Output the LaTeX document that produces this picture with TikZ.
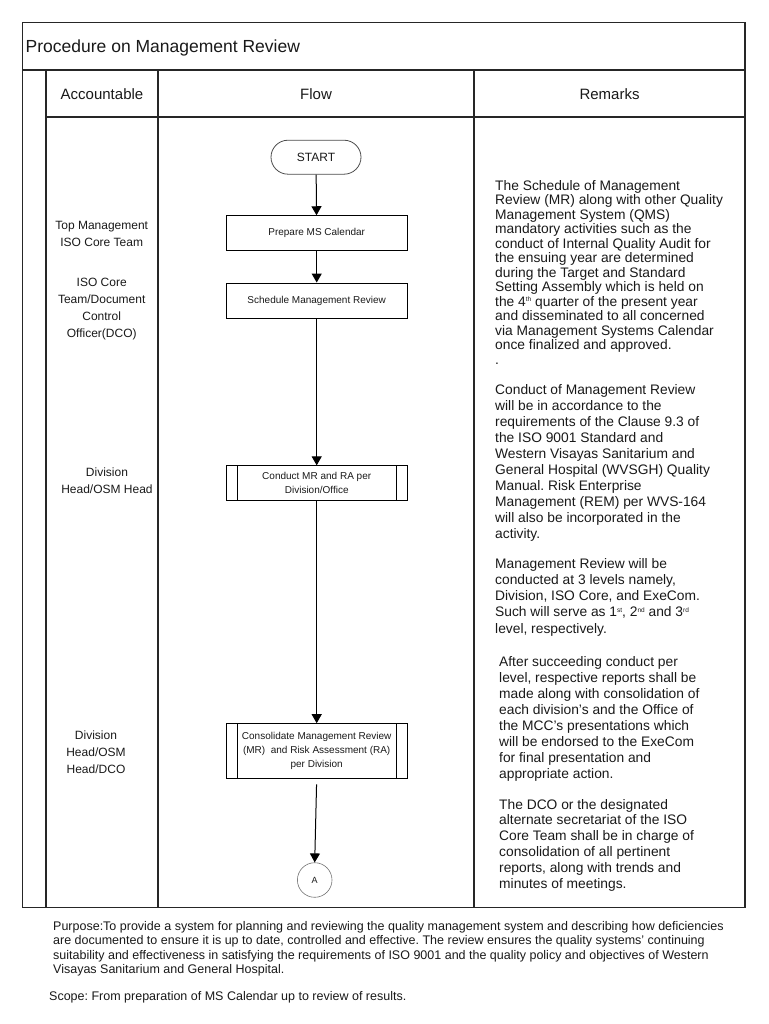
\documentclass[tikz,border=0pt]{standalone}
\usepackage{fontspec}
\setmainfont{Liberation Sans}
\usetikzlibrary{arrows.meta}
\frenchspacing
\newcommand{\ordsup}[1]{\raisebox{0.55ex}{\fontsize{6.5}{7}\selectfont #1}}

\begin{document}
\begin{tikzpicture}[x=1pt, y=-1pt,
  every node/.style={inner sep=0pt, text=black!90},
  head/.style={font=\fontsize{15}{18}\selectfont},
  lane/.style={align=center, font=\fontsize{12}{17}\selectfont},
  remark/.style={align=left, anchor=north west, font=\fontsize{13.8}{16}\selectfont},
  note/.style={align=left, anchor=north west, font=\fontsize{12.5}{14.2}\selectfont},
  proc/.style={draw, line width=0.9pt, minimum width=181.3pt, minimum height=35pt, align=center, font=\fontsize{10}{14}\selectfont},
  subproc/.style={proc, path picture={
      \draw[line width=0.9pt] ([xshift=11.3pt]path picture bounding box.north west) -- ([xshift=11.3pt]path picture bounding box.south west)
        ([xshift=-11.3pt]path picture bounding box.north east) -- ([xshift=-11.3pt]path picture bounding box.south east);}},
  terminal/.style={draw=black!70, line width=0.8pt, rounded corners=17pt, minimum width=90pt, minimum height=34pt, font=\fontsize{12}{14}\selectfont},
  connector/.style={circle, draw=black!55, line width=0.6pt, minimum size=34.6pt, font=\fontsize{9}{11}\selectfont},
  flowarrow/.style={-{Triangle[length=9pt, width=10pt]}, line width=1pt}]

  \useasboundingbox (0,0) rectangle (768,1024);

  % table frame
  \draw[line width=1.3pt, black!85] (22.7,22.7) rectangle (745,907.5);
  \draw[line width=1.3pt, black!85] (22.7,70) -- (745,70);
  \draw[line width=1.3pt, black!85] (46,117) -- (745,117);
  \foreach \x in {46,158,474}
    \draw[line width=1.3pt, black!85] (\x,70) -- (\x,907.5);

  \node (title) [anchor=west, font=\fontsize{17.5}{20}\selectfont] at (25.5,48) {Procedure on Management Review};
  \node (hacc) [head] at (102,94) {Accountable};
  \node (hflow) [head] at (316,94) {Flow};
  \node (hrem) [head] at (609.5,94) {Remarks};

  % accountable
  \node (acc1) [lane] at (101.7,234.2) {Top Management\\ISO Core Team};
  \node (acc2) [lane] at (101.7,308.7) {ISO Core\\Team/Document\\Control\\Officer(DCO)};
  \node (acc3) [lane] at (107,480.8) {Division\\Head/OSM Head};
  \node (acc4) [lane] at (96,752.5) {Division\\Head/OSM\\Head/DCO};

  % flow
  \node (start) [terminal] at (316,157.2) {START};
  \node (prep) [proc] at (316.7,233.2) {Prepare MS Calendar};
  \node (sched) [proc] at (316.7,300.5) {Schedule Management Review};
  \node (conduct) [subproc] at (316.7,483.3) {Conduct MR and RA per\\Division/Office};
  \node (consol) [subproc, minimum height=54.3pt] at (316.7,750.8) {Consolidate Management Review\\(MR)\ \ and Risk Assessment (RA)\\per Division};
  \node (conA) [connector] at (314.7,880) {A};

  \draw (start) edge[flowarrow] (prep);
  \draw (prep) edge[flowarrow] (sched);
  \draw (sched) edge[flowarrow] (conduct);
  \draw (conduct) edge[flowarrow] (consol);
  \draw (consol.south) edge[flowarrow, shorten <=6pt] (conA.north);

  % remarks
  \node (rem1) [remark, font=\fontsize{13.8}{14.5}\selectfont] at (495,179.8) {The Schedule of Management\\Review (MR) along with other Quality\\Management System (QMS)\\mandatory activities such as the\\conduct of Internal Quality Audit for\\the ensuing year are determined\\during the Target and Standard\\Setting Assembly which is held on\\the 4\ordsup{th} quarter of the present year\\and disseminated to all concerned\\via Management Systems Calendar\\once finalized and approved.\\.};
  \node (rem2) [remark] at (495,384.1) {Conduct of Management Review\\will be in accordance to the\\requirements of the Clause 9.3 of\\the ISO 9001 Standard and\\Western Visayas Sanitarium and\\General Hospital (WVSGH) Quality\\Manual. Risk Enterprise\\Management (REM) per WVS-164\\will also be incorporated in the\\activity.};
  \node (rem3) [remark, font=\fontsize{13.8}{16.25}\selectfont] at (495,557.8) {Management Review will be\\conducted at 3 levels namely,\\Division, ISO Core, and ExeCom.\\Such will serve as 1\ordsup{st}, 2\ordsup{nd} and 3\ordsup{rd}\\level, respectively.};
  \node (rem4) [remark] at (499,655.8) {After succeeding conduct per\\level, respective reports shall be\\made along with consolidation of\\each division's and the Office of\\the MCC's presentations which\\will be endorsed to the ExeCom\\for final presentation and\\appropriate action.};
  \node (rem5) [remark, font=\fontsize{13.8}{15.8}\selectfont] at (499,798.8) {The DCO or the designated\\alternate secretariat of the ISO\\Core Team shall be in charge of\\consolidation of all pertinent\\reports, along with trends and\\minutes of meetings.};

  % purpose and scope
  \node (purpose) [note] at (53,921.4) {Purpose:To provide a system for planning and reviewing the quality management system and describing how deficiencies\\are documented to ensure it is up to date, controlled and effective. The review ensures the quality systems' continuing\\suitability and effectiveness in satisfying the requirements of ISO 9001 and the quality policy and objectives of Western\\Visayas Sanitarium and General Hospital.};
  \node (scope) [note] at (49,991.1) {Scope: From preparation of MS Calendar up to review of results.};
\end{tikzpicture}
\end{document}
